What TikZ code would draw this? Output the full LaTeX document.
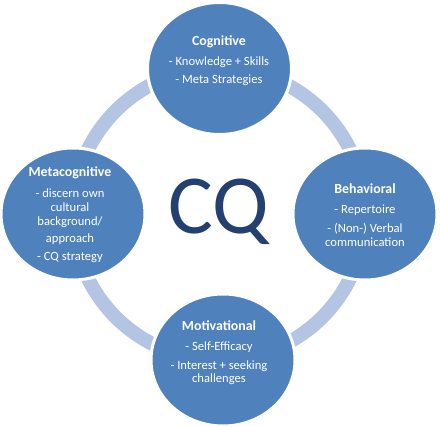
\documentclass[tikz,border=0pt]{standalone}
\usepackage{fontspec}
\setmainfont{Carlito}
\usetikzlibrary{shapes.geometric}
\definecolor{circfill}{RGB}{79,129,189}
\definecolor{ringcol}{RGB}{180,197,228}
\definecolor{cqcol}{RGB}{36,64,112}
\tikzset{
  bubble/.style={ellipse, fill=circfill, draw=white, line width=3pt,
    minimum width=144pt, minimum height=132pt, inner sep=0pt},
  ttl/.style={text=white, font=\fontsize{13.9}{15}\selectfont\bfseries, align=center, inner sep=0pt},
  itm/.style={text=white, font=\fontsize{12.6}{13}\selectfont, align=center, inner sep=0pt}
}
\begin{document}
\begin{tikzpicture}[x=1pt,y=-1pt]
\useasboundingbox (0,0) rectangle (440,427);
\coordinate (ring) at (219,214);
\draw[ringcol, line width=14pt] (ring) circle[radius=146];
\node[bubble] (cog) at (219.5,68.5) {};
\node[bubble] (meta) at (73,214) {};
\node[bubble] (beh) at (365,214) {};
\node[bubble] (mot) at (223,360) {};
\node[text=cqcol, font=\fontsize{84}{84}\selectfont] (cq) at (219,212) {CQ};
% Cognitive
\node[ttl] (cogt) at (219,42) {Cognitive};
\node[itm] (cog1) at (219,62) {- Knowledge + Skills};
\node[itm] (cog2) at (219,80) {- Meta Strategies};
% Metacognitive
\node[ttl] (metat) at (70,173) {Metacognitive};
\node[itm] (meta1) at (70,193) {- discern own};
\node[itm] (meta1b) at (70,207.5) {cultural};
\node[itm] (meta1c) at (70,222) {background/};
\node[itm] (meta2) at (70,239) {approach};
\node[itm] (meta3) at (70,257) {- CQ strategy};
% Behavioral
\node[ttl] (beht) at (365,189) {Behavioral};
\node[itm] (beh1) at (365,210) {- Repertoire};
\node[itm] (beh2) at (365,229) {- (Non-) Verbal};
\node[itm] (beh2b) at (365,242) {communication};
% Motivational
\node[ttl] (mott) at (219,326) {Motivational};
\node[itm] (mot1) at (219,347) {- Self-Efficacy};
\node[itm] (mot2) at (219,366) {- Interest + seeking};
\node[itm] (mot2b) at (219,379) {challenges};
\end{tikzpicture}
\end{document}
